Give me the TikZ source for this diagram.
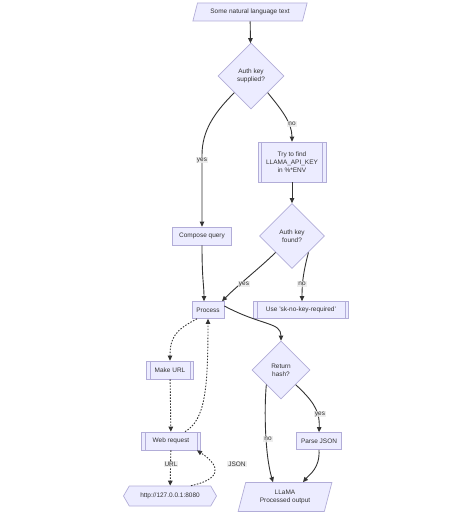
\documentclass[tikz,border=0pt]{standalone}
\usepackage{fontspec}
\setmainfont{Liberation Sans}
\usetikzlibrary{shapes.geometric,shapes.symbols,arrows.meta}
\definecolor{nfill}{HTML}{ECECFF}
\definecolor{nline}{HTML}{B2ADD8}
\definecolor{eline}{HTML}{333333}
\definecolor{lbg}{HTML}{EAEAEA}
\tikzset{
  base/.style={draw=nline,fill=nfill,line width=0.7bp,font=\fontsize{6.5}{7.8}\selectfont,text=eline,align=center,inner sep=1bp},
  box/.style={base,rectangle},
  subr/.style={box,path picture={
     \draw[nline,line width=0.7bp] ([xshift=3.5bp]path picture bounding box.north west) -- ([xshift=3.5bp]path picture bounding box.south west);
     \draw[nline,line width=0.7bp] ([xshift=-3.5bp]path picture bounding box.north east) -- ([xshift=-3.5bp]path picture bounding box.south east);}},
  dec/.style={base,diamond,aspect=1},
  para/.style={base,trapezium,trapezium stretches=true},
  hexa/.style={base,signal,signal to=east and west,signal pointer angle=120},
  edge/.style={draw=eline,line width=0.9bp,-{Triangle[length=5bp,width=4.5bp]}},
  dots/.style={edge,dash pattern=on 1.5bp off 1.5bp},
  lbl/.style={fill=lbg,fill opacity=0.8,text opacity=1,font=\fontsize{6.5}{7.8}\selectfont,text=eline,inner sep=1bp}
}
\begin{document}
\begin{tikzpicture}[x=1bp,y=-1bp]
\useasboundingbox (0,0) rectangle (474,515);
\node[para,trapezium left angle=66,trapezium right angle=114,minimum width=115bp,minimum height=18bp] (in) at (250,12) {Some natural language text};
\node[dec,minimum width=66bp,minimum height=66bp] (d1) at (251,76) {Auth key\\supplied?};
\node[subr,minimum width=68bp,minimum height=40bp] (try) at (292,162) {Try to find\\LLAMA\_API\_KEY\\in \%*ENV};
\node[box,minimum width=59bp,minimum height=18bp] (cq) at (202,236) {Compose query};
\node[dec,minimum width=65bp,minimum height=65bp] (d2) at (292,236) {Auth key\\found?};
\node[box,minimum width=32bp,minimum height=17bp] (proc) at (208,310) {Process};
\node[subr,minimum width=95bp,minimum height=17bp] (use) at (301,310) {Use 'sk-no-key-required'};
\node[dec,minimum width=58bp,minimum height=58bp] (d3) at (281,370) {Return\\hash?};
\node[subr,minimum width=47bp,minimum height=18bp] (url) at (170,370) {Make URL};
\node[subr,minimum width=59bp,minimum height=18bp] (web) at (171,441) {Web request};
\node[hexa,minimum width=93bp,minimum height=20bp] (http) at (170,496) {http://127.0.0.1:8080};
\node[box,minimum width=45bp,minimum height=17bp] (pj) at (319,441) {Parse JSON};
\node[para,trapezium left angle=72,trapezium right angle=108,minimum width=94bp,minimum height=29bp] (out) at (285,497) {LLaMA\\Processed output};

\draw[edge] (in) -- (d1);
\draw[edge] (d1.south west) .. controls (215,112) and (202,130) .. (202,155) -- (cq.north);
\node[lbl] (l1) at (202,160) {yes};
\draw[edge] (d1.south east) .. controls (280,108) and (292,122) .. (try.north);
\node[lbl] (l2) at (292,124) {no};
\draw[edge] (try) -- (d2);
\draw[edge] (cq.south) .. controls (202,280) and (204,285) .. ([xshift=-4bp]proc.north);
\draw[edge] (d2.south west) .. controls (262,266) and (238,285) .. ([xshift=14bp]proc.north);
\node[lbl] (l3) at (244,284) {yes};
\draw[edge] (d2.south east) .. controls (304,270) and (302,280) .. ([xshift=1bp]use.north);
\node[lbl] (l4) at (302,284) {no};
\draw[edge] ([yshift=4bp]proc.east) .. controls (262,326) and (281,322) .. (d3.north);
\draw[dots] ([xshift=-11bp]proc.south) .. controls (175,330) and (170,338) .. (url.north);
\draw[dots] (url) -- (web);
\draw[dots] ([xshift=14bp]web.north) .. controls (205,420) and (208,390) .. (proc.south);
\draw[dots] (web) -- (http);
\node[lbl] (l5) at (171,464) {URL};
\draw[dots] ([xshift=21bp]http.north) .. controls (218,480) and (224,468) .. ([xshift=26bp]web.south);
\node[lbl] (l6) at (237,464) {JSON};
\draw[edge] (d3.south west) .. controls (264,410) and (265,455) .. ([xshift=-12bp]out.north);
\node[lbl] (l7) at (268,439) {no};
\draw[edge] (d3.south east) .. controls (312,400) and (320,410) .. (pj.north);
\node[lbl] (l8) at (320,414) {yes};
\draw[edge] (pj.south) .. controls (320,468) and (310,474) .. ([xshift=18bp]out.north);
\end{tikzpicture}
\end{document}
